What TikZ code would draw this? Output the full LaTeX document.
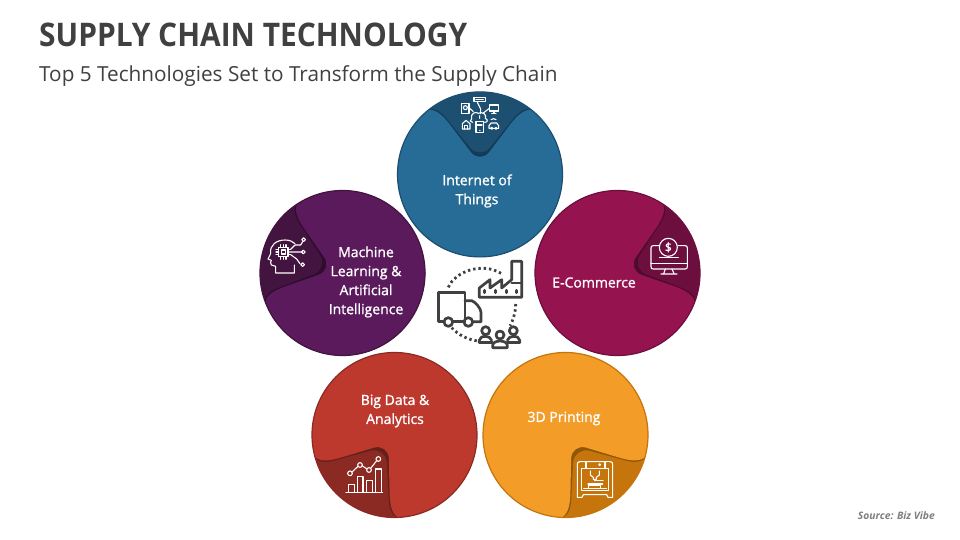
\documentclass[tikz,border=0pt]{standalone}
\usepackage{graphicx}
\usepackage{fontspec}
\setmainfont{Open Sans}
\newfontfamily\semi[FakeBold=1.2]{Open Sans}
\definecolor{ink}{HTML}{404040}
\definecolor{srcgrey}{HTML}{7F7F7F}
\definecolor{bluea}{HTML}{266C96}\definecolor{blueb}{HTML}{1D4F71}\definecolor{bluec}{HTML}{143B56}
\definecolor{purpa}{HTML}{5A1A5C}\definecolor{purpb}{HTML}{43143F}\definecolor{purpc}{HTML}{2E0D2E}
\definecolor{maga}{HTML}{95134F}\definecolor{magb}{HTML}{6D0F3E}\definecolor{magc}{HTML}{4F0B2E}
\definecolor{reda}{HTML}{BD392E}\definecolor{redb}{HTML}{8B2A22}\definecolor{redc}{HTML}{65201A}
\definecolor{orga}{HTML}{F39C27}\definecolor{orgb}{HTML}{C5750C}\definecolor{orgc}{HTML}{8F5608}
\tikzset{
  petaltext/.style={text=white,align=center,font=\fontsize{14}{19}\selectfont\semi},
  wline/.style={draw=white,line width=1.1pt,line cap=round,line join=round},
  gline/.style={draw=ink,line width=2.7pt,line cap=round,line join=round},
  dotline/.style={draw=ink,line width=2.8pt,dash pattern=on 2.4pt off 2.9pt},
  zoomed/.style={x=0.33333pt,y=-0.33333pt}
}
% cx, cy, rot, light, dark, band
\newcommand{\petal}[6]{%
  \begin{scope}[shift={(#1,#2)},rotate=#3]
    \begin{scope}
      \clip (0,0) circle[radius=82.5];
      \fill[#5] (-90,-90) rectangle (90,90);
      \fill[#6] (-54,-64) .. controls (-46,-68) and (-39,-63) .. (-32,-54) -- (-9.5,-26) .. controls (-4,-20.5) and (4,-20.5) .. (9.5,-26) -- (32,-54) .. controls (39,-63) and (46,-68) .. (54,-64) -- (54,100) -- (-54,100) -- cycle;
      \fill[#4] (-54,-64) .. controls (-46,-66.5) and (-39,-61) .. (-31,-51) -- (-9,-22) .. controls (-4,-16) and (4,-16) .. (9,-22) -- (31,-51) .. controls (39,-61) and (46,-66.5) .. (54,-64) -- (100,-64) -- (100,100) -- (-100,100) -- (-100,-64) -- cycle;
    \end{scope}
    \draw[#5,line width=1.2pt] (0,0) circle[radius=82.5];
  \end{scope}%
}
\begin{document}
\begin{tikzpicture}[x=1pt,y=-1pt]
\useasboundingbox (0,0) rectangle (960,540);
\fill[white] (0,0) rectangle (960,540);
\node[anchor=base west,inner sep=0pt,text=ink,font=\fontsize{32.5}{36}\selectfont\bfseries] (title) at (39,46.5) {\scalebox{0.92}[1]{SUPPLY CHAIN TECHNOLOGY}};
\node[anchor=base west,inner sep=0pt,text=ink,font=\fontsize{20.75}{24}\selectfont] (subtitle) at (39,81.5) {Top 5 Technologies Set to Transform the Supply Chain};
\node[anchor=base east,inner sep=0pt,text=srcgrey,font=\fontsize{10.3}{12}\selectfont\bfseries\itshape] (source) at (935,519.5) {Source: Biz Vibe};

\petal{480}{174.4}{0}{bluea}{blueb}{bluec}
\petal{342.5}{273}{72}{purpa}{purpb}{purpc}
\petal{617.5}{273}{-72}{maga}{magb}{magc}
\petal{394.5}{435}{144}{reda}{redb}{redc}
\petal{565.5}{435}{-144}{orga}{orgb}{orgc}

\node[petaltext] (iot) at (477,191) {Internet of\\Things};
\node[petaltext] (ml) at (366,282) {Machine\\Learning \&\\Artificial\\Intelligence};
\node[petaltext] (ec) at (594,282.5) {E-Commerce};
\node[petaltext] (bd) at (395,411) {Big Data \&\\Analytics};
\node[petaltext] (pr) at (564,418.5) {3D Printing};

% IoT icon
\begin{scope}[shift={(390,85)},zoomed]
  \draw[wline] (252,38) rectangle (286,50);
  \draw[wline] (258,44) -- (280,44);
  \draw[wline] (214,55) rectangle (237,85);
  \draw[wline] (226,68) circle[radius=6];
  \draw[wline] (298,60) rectangle (326,78);
  \draw[wline] (305,86) -- (318,86) (312,78) -- (312,86);
  \draw[wline] (245,102) .. controls (240,85) and (258,78) .. (265,85) .. controls (275,78) and (292,88) .. (286,100) .. controls (296,105) and (292,112) .. (284,112);
  \draw[wline] (245,102) .. controls (238,105) and (240,112) .. (248,112);
  \draw[wline] (258,110) rectangle (280,143);
  \draw[wline] (269,136) -- (270,136) (262,120) -- (276,120);
  \draw[wline] (217,132) -- (217,116) -- (228,106) -- (240,116) -- (240,132) -- cycle;
  \draw[wline] (224,132) -- (224,122) -- (233,122) -- (233,132);
  \draw[wline] (297,130) -- (297,122) -- (303,114) -- (320,114) -- (326,122) -- (326,130) -- cycle;
  \draw[wline] (305,130) circle[radius=3] (318,130) circle[radius=3];
  \draw[wline] (303,104) .. controls (308,100) and (314,100) .. (318,104);
  \draw[wline] (262,52) -- (272,72) (272,72) -- (272,86) (237,68) -- (250,80) (298,70) -- (280,84) (269,92) -- (269,100);
\end{scope}

% Machine learning icon
\begin{scope}[shift={(250,185)},zoomed]
  \draw[wline] (133,240) -- (133,264) -- (77,264) -- (77,244) -- (64,240) .. controls (60,236) and (62,230) .. (64,226) -- (54,222) -- (62,206) .. controls (58,180) and (80,165) .. (105,165) .. controls (120,165) and (128,170) .. (135,176);
  \draw[wline] (86,187) rectangle (114,215);
  \draw[wline] (94,195) rectangle (106,207);
  \draw[wline] (92,179) -- (92,187) (100,179) -- (100,187) (108,179) -- (108,187)
               (92,215) -- (92,223) (100,215) -- (100,223) (108,215) -- (108,223)
               (78,193) -- (86,193) (78,201) -- (86,201) (78,209) -- (86,209)
               (114,193) -- (122,193) (114,209) -- (122,209);
  \draw[wline] (114,201) -- (153,201) (122,193) -- (135,180) -- (152,180) -- (158,170) (122,209) -- (140,222) -- (150,236);
  \draw[wline] (161,164) circle[radius=5.5] (160,201) circle[radius=5.5] (158,239) circle[radius=5.5];
\end{scope}

% E-commerce icon
\begin{scope}[shift={(600,190)},zoomed]
  \draw[wline] (177,167) -- (160,167) .. controls (155,167) and (153,169) .. (153,174) -- (153,230) .. controls (153,235) and (155,237) .. (160,237) -- (255,237) .. controls (260,237) and (262,235) .. (262,230) -- (262,174) .. controls (262,169) and (260,167) .. (255,167) -- (234,167);
  \draw[wline] (205,172) circle[radius=27];
  \draw[wline] (178,203) -- (235,203);
  \draw[wline] (153,221) -- (262,221);
  \draw[wline] (196,237) -- (191,251) (216,237) -- (222,251) (183,252) -- (231,252);
  \node[inner sep=0pt,text=white,font=\fontsize{12}{12}\selectfont\semi] (dollar) at (205,172) {\$};
\end{scope}

% Chart icon
\begin{scope}[shift={(305,420)},zoomed]
  \draw[wline] (123,217) -- (233,217);
  \draw[wline] (131,217) -- (131,194) -- (148,194) -- (148,217);
  \draw[wline] (157,217) -- (157,170) -- (174,170) -- (174,217);
  \draw[wline] (185,217) -- (185,181) -- (202,181) -- (202,217);
  \draw[wline] (211,217) -- (211,147) -- (229,147) -- (229,217);
  \draw[wline] (141,156) -- (159,139) (171,137) -- (186,147) (197,145) -- (215,122);
  \draw[wline] (135,160) circle[radius=7] (165,135) circle[radius=7] (192,150) circle[radius=7] (220,117) circle[radius=7];
\end{scope}

% Printer icon
\begin{scope}[shift={(540,420)},zoomed]
  \draw[wline] (112,232) -- (112,132) .. controls (112,127) and (115,125) .. (120,125) -- (210,125) .. controls (215,125) and (218,127) .. (218,132) -- (218,232) -- (204,232) -- (200,224) -- (130,224) -- (126,232) -- cycle;
  \draw[wline] (138,125) -- (138,145) (195,125) -- (195,145) (125,145) -- (206,145);
  \draw[wline] (125,145) rectangle (206,212);
  \draw[wline] (179,134) circle[radius=2.5];
  \draw[wline] (151,153) -- (151,165) -- (160,172) -- (160,178) -- (169,178) -- (169,172) -- (178,165) -- (178,153);
  \draw[wline] (165,178) -- (165,182) (165,182) -- (189,182);
  \draw[wline] (144,192) -- (188,192);
  \draw[wline] (145,205) -- (145,195) -- (181,195) -- (181,205);
  \draw[wline] (131,205) -- (200,205);
\end{scope}

% Central icon
\begin{scope}[shift={(425,255)},zoomed]
  \draw[dotline] (70,97) .. controls (90,50) and (170,20) .. (228,55);
  \draw[dotline] (272,147) .. controls (272,170) and (265,195) .. (255,212);
  \draw[dotline] (80,218) .. controls (100,240) and (130,255) .. (160,258);
  \draw[gline] (55,200) -- (40,200) -- (40,112) -- (120,112) -- (120,200) -- (83,200);
  \draw[gline] (120,137) -- (140,137) .. controls (150,140) and (168,160) .. (168,172) -- (168,200) -- (143,200);
  \draw[gline] (70,201) circle[radius=13] (130,201) circle[radius=13];
  \draw[gline] (163,127) -- (163,99) -- (195,74) -- (195,99) -- (230,74) -- (230,99) -- (260,74) -- (260,19) -- (290,19) -- (290,127) -- cycle;
  \draw[gline] (260,84) -- (290,84);
  \draw[gline] (178,106) -- (178,113) (211,106) -- (211,113) (244,106) -- (244,113) (275,106) -- (275,113);
  \draw[gline] (182,227) circle[radius=12] (265,227) circle[radius=12] (225,240) circle[radius=12];
  \draw[gline] (163,263) -- (163,256) .. controls (163,248) and (172,244) .. (182,244) .. controls (190,244) and (197,248) .. (200,256);
  \draw[gline] (284,263) -- (284,256) .. controls (284,248) and (275,244) .. (265,244) .. controls (257,244) and (250,248) .. (247,256);
  \draw[gline] (163,263) -- (202,263) (246,263) -- (284,263);
  \draw[gline] (203,278) -- (203,271) .. controls (203,263) and (214,258) .. (225,258) .. controls (236,258) and (247,263) .. (247,271) -- (247,278) -- cycle;
\end{scope}
\end{tikzpicture}
\end{document}
